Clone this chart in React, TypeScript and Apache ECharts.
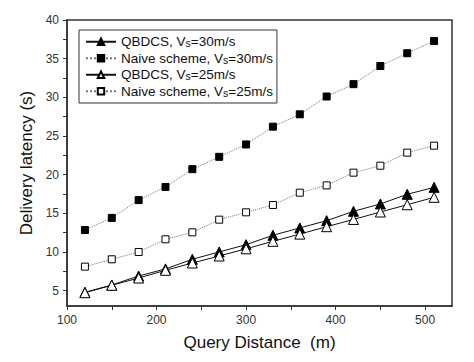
import React, { useEffect, useRef } from "react";
import * as echarts from "echarts";

const distances = [120, 150, 180, 210, 240, 270, 300, 330, 360, 390, 420, 450, 480, 510];
const qbdcs30 = [4.77, 5.72, 6.88, 7.8, 9.04, 10.0, 10.93, 12.15, 13.1, 14.04, 15.25, 16.2, 17.45, 18.35];
const naive30 = [12.83, 14.4, 16.7, 18.4, 20.7, 22.3, 23.9, 26.2, 27.8, 30.1, 31.7, 34.05, 35.7, 37.28];
const qbdcs25 = [4.72, 5.68, 6.62, 7.62, 8.56, 9.47, 10.4, 11.37, 12.3, 13.26, 14.2, 15.16, 16.1, 17.06];
const naive25 = [8.09, 9.04, 9.99, 11.63, 12.53, 14.17, 15.12, 16.07, 17.66, 18.6, 20.25, 21.15, 22.84, 23.74];

const xTicks = [100, 150, 200, 250, 300, 350, 400, 450, 500];
const xLabels = [100, 200, 300, 400, 500];
const yLabels = [5, 10, 15, 20, 25, 30, 35, 40];
const yTicks = [5, 7.5, 10, 12.5, 15, 17.5, 20, 22.5, 25, 27.5, 30, 32.5, 35, 37.5, 40];

const seriesNames = [
  "QBDCS, Vs=30m/s",
  "Naive scheme, Vs=30m/s",
  "QBDCS, Vs=25m/s",
  "Naive scheme, Vs=25m/s",
];

const FONT = "'Liberation Sans', Arial, Helvetica, sans-serif";

export default function App() {
  const ref = useRef<HTMLDivElement>(null);
  useEffect(() => {
    if (!ref.current) return;
    const chart = echarts.init(ref.current, undefined, { renderer: "svg" });
    const pair = (ys: number[]) => distances.map((x, i) => [x, ys[i]]);
    const solid = { color: "#111", width: 1, type: "solid" as const };
    const dotted = { color: "#777", width: 1, type: "dotted" as const };
    chart.setOption({
      animation: false,
      backgroundColor: "#fff",
      textStyle: { fontFamily: FONT },
      grid: {
        left: 67,
        right: 22,
        top: 20,
        bottom: 56,
        show: true,
        borderColor: "#333",
        borderWidth: 1.5,
      },
      legend: {
        orient: "vertical",
        left: 79,
        top: 30,
        padding: [4, 4, 4, 6],
        itemGap: 1,
        itemWidth: 30,
        itemHeight: 8,
        borderColor: "#333",
        borderWidth: 1,
        backgroundColor: "#fff",
        data: seriesNames,
        formatter: (name: string) => name.replace("Vs", "V{s|s}"),
        textStyle: {
          fontFamily: FONT,
          fontSize: 13.5,
          lineHeight: 15.5,
          color: "#111",
          rich: {
            s: { fontSize: 10.5, fontFamily: FONT, color: "#111", padding: [3, 0, 0, 0] },
          },
        },
      },
      xAxis: {
        type: "value",
        min: 100,
        max: 530,
        name: "Query Distance  (m)",
        nameLocation: "middle",
        nameGap: 28,
        nameTextStyle: { fontSize: 17, color: "#111", fontFamily: FONT },
        axisLine: { show: true, lineStyle: { color: "#333", width: 1.5 } },
        axisTick: { show: true, length: 4, customValues: xTicks, lineStyle: { color: "#333" } },
        axisLabel: { customValues: xLabels, fontSize: 12, color: "#333", margin: 8, fontFamily: FONT },
        splitLine: { show: false },
      },
      yAxis: {
        type: "value",
        min: 3,
        max: 40,
        name: "Delivery latency (s)",
        nameLocation: "middle",
        nameGap: 27,
        nameTextStyle: { fontSize: 17, color: "#111", fontFamily: FONT },
        axisLine: { show: true, lineStyle: { color: "#333", width: 1.5 } },
        axisTick: { show: true, length: 4, customValues: yTicks, lineStyle: { color: "#333" } },
        axisLabel: { customValues: yLabels, fontSize: 12, color: "#333", margin: 8, fontFamily: FONT },
        splitLine: { show: false },
      },
      series: [
        {
          name: seriesNames[0],
          type: "line",
          data: pair(qbdcs30),
          symbol: "triangle",
          symbolSize: 10,
          lineStyle: solid,
          itemStyle: { color: "#000", borderColor: "#000", borderWidth: 1 },
          z: 4,
        },
        {
          name: seriesNames[1],
          type: "line",
          data: pair(naive30),
          symbol: "rect",
          symbolSize: 7,
          lineStyle: dotted,
          itemStyle: { color: "#000", borderColor: "#000", borderWidth: 1 },
        },
        {
          name: seriesNames[2],
          type: "line",
          data: pair(qbdcs25),
          symbol: "triangle",
          symbolSize: 10,
          lineStyle: solid,
          itemStyle: { color: "#fff", borderColor: "#000", borderWidth: 1 },
          z: 5,
        },
        {
          name: seriesNames[3],
          type: "line",
          data: pair(naive25),
          symbol: "rect",
          symbolSize: 7,
          lineStyle: dotted,
          itemStyle: { color: "#fff", borderColor: "#000", borderWidth: 1 },
        },
      ],
    });
    return () => chart.dispose();
  }, []);
  return <div ref={ref} style={{ width: 474, height: 362, position: "absolute", left: 0, top: 0 }} />;
}
